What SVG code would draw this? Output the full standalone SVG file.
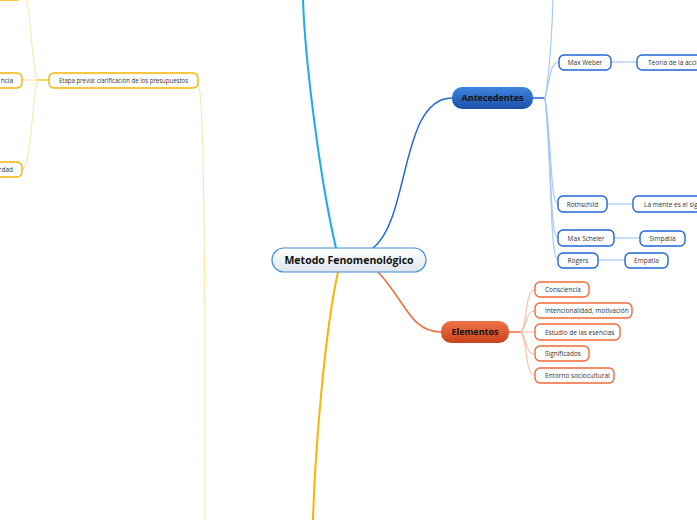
<svg xmlns="http://www.w3.org/2000/svg" width="697" height="520" viewBox="0 0 697 520">
<defs>
<linearGradient id="gc" x1="0" y1="0" x2="0" y2="1"><stop offset="0" stop-color="#ffffff"/><stop offset="1" stop-color="#dfe6ec"/></linearGradient>
<linearGradient id="gb" x1="0" y1="0" x2="0" y2="1"><stop offset="0" stop-color="#3f86e0"/><stop offset="1" stop-color="#1b4fa6"/></linearGradient>
<linearGradient id="go" x1="0" y1="0" x2="0" y2="1"><stop offset="0" stop-color="#f07448"/><stop offset="1" stop-color="#c8421c"/></linearGradient>
</defs>
<style>
text{font-family:"Open Sans","DejaVu Sans",sans-serif;font-size:6.5px;fill:#333}
.b{fill:#fff;stroke:#1f66d6;stroke-width:1.4}
.o{fill:#fff;stroke:#f26b3a;stroke-width:1.4}
.y{fill:#fff;stroke:#f7b500;stroke-width:1.4}
.t{font-weight:bold;font-size:9px;fill:#111}
.lb{fill:none;stroke:#a9c8f2;stroke-width:1.2}
.lo{fill:none;stroke:#f9b59a;stroke-width:1}
.ly{fill:none;stroke:#fde3a6;stroke-width:1}
</style>
<g id="connectors">
<path d="M336,248 C320,180 305,60 303,0" fill="none" stroke="#1eaaf0" stroke-width="2"/>
<path d="M338,272 C325,330 315,450 313,520" fill="none" stroke="#f7b500" stroke-width="2"/>
<path d="M378,272 C405,300 410,332 441,332" fill="none" stroke="#f26b3a" stroke-width="1.5"/>
<path d="M373,248 C410,220 400,98 452,98" fill="none" stroke="#1f66d6" stroke-width="1.5"/>
<path d="M533,98 L545,98" stroke="#1f66d6" stroke-width="1.5"/>
<path class="lb" d="M545,98 C550,70 552,30 553,0"/>
<path class="lb" d="M545,98 C550,80 550,62 559,62"/>
<path class="lb" d="M545,98 C552,140 550,204 558,204"/>
<path class="lb" d="M545,98 C552,160 550,238 558,238"/>
<path class="lb" d="M545,98 C552,170 550,260 558,260"/>
<path class="lb" d="M611,62 L637,62"/>
<path class="lb" d="M607,204 L633,204"/>
<path class="lb" d="M614,238 L640,238"/>
<path class="lb" d="M598,260 L625,260"/>
<path d="M509,332 L521,332" stroke="#f26b3a" stroke-width="1.5"/>
<path class="lo" d="M521,332 C528,320 525,290 535,290"/>
<path class="lo" d="M521,332 C528,325 525,311 535,311"/>
<path class="lo" d="M521,332 L535,332"/>
<path class="lo" d="M521,332 C528,340 525,354 535,354"/>
<path class="lo" d="M521,332 C528,345 525,375 535,375"/>
<path class="ly" d="M198,80 C205,100 205,300 205,520"/>
<path d="M37,80 L49,80" stroke="#f7b500" stroke-width="1.2"/>
<path class="ly" d="M37,80 C32,60 30,10 26,0"/>
<path class="ly" d="M37,80 L22,80"/>
<path class="ly" d="M37,80 C32,110 30,169 22,169"/>
</g>
<g id="central"><rect x="272" y="248" width="154" height="24" rx="12" fill="url(#gc)" stroke="#3a8ed8" stroke-width="1.2"/><text x="349" y="264" text-anchor="middle" style="font-size:10.5px;font-weight:bold;fill:#111">Metodo Fenomenológico</text></g>
<g id="antecedentes"><rect x="452" y="87" width="81" height="22" rx="10" fill="url(#gb)"/><text class="t" x="492.5" y="101" text-anchor="middle">Antecedentes</text></g>
<g id="weber"><rect class="b" x="559" y="55" width="52" height="15" rx="5"/><text x="585" y="65" text-anchor="middle">Max Weber</text></g>
<g id="accion"><rect class="b" x="637" y="55" width="70" height="15" rx="5"/><text x="648" y="65">Teoría de la acción</text></g>
<g id="rothschild"><rect class="b" x="558" y="196" width="49" height="16" rx="5"/><text x="582.5" y="206.5" text-anchor="middle">Rothschild</text></g>
<g id="mente"><rect class="b" x="633" y="196" width="74" height="16" rx="5"/><text x="644" y="206.5">La mente es el signo</text></g>
<g id="scheler"><rect class="b" x="558" y="230" width="56" height="16" rx="5"/><text x="586" y="240.5" text-anchor="middle">Max Scheler</text></g>
<g id="simpatia"><rect class="b" x="640" y="231" width="45" height="15" rx="5"/><text x="662.5" y="241" text-anchor="middle">Simpatía</text></g>
<g id="rogers"><rect class="b" x="558" y="253" width="40" height="15" rx="5"/><text x="578" y="263" text-anchor="middle">Rogers</text></g>
<g id="empatia"><rect class="b" x="625" y="253" width="43" height="15" rx="5"/><text x="646.5" y="263" text-anchor="middle">Empatía</text></g>
<g id="elementos"><rect x="441" y="321" width="68" height="22" rx="10" fill="url(#go)"/><text class="t" x="475" y="335" text-anchor="middle">Elementos</text></g>
<g id="consciencia"><rect class="o" x="535" y="282" width="54" height="15" rx="5"/><text x="545" y="292">Consciencia</text></g>
<g id="intencionalidad"><rect class="o" x="535" y="303" width="97" height="15" rx="5"/><text x="545" y="313">Intencionalidad, motivación</text></g>
<g id="estudio"><rect class="o" x="535" y="324" width="85" height="16" rx="5"/><text x="545" y="334.5">Estudio de las esencias</text></g>
<g id="significados"><rect class="o" x="535" y="346" width="54" height="15" rx="5"/><text x="545" y="356">Significados</text></g>
<g id="entorno"><rect class="o" x="535" y="368" width="79" height="15" rx="5"/><text x="545" y="378">Entorno sociocultural</text></g>
<g id="etapa"><rect class="y" x="49" y="73" width="149" height="15" rx="5"/><text x="59" y="83" textLength="129" lengthAdjust="spacingAndGlyphs">Etapa previa: clarificación de los presupuestos</text></g>
<g id="top-left"><rect class="y" x="-40" y="-15" width="62" height="15" rx="5"/></g>
<g id="ncia"><rect class="y" x="-40" y="73" width="62" height="15" rx="5"/><text x="13" y="83" text-anchor="end">ncia</text></g>
<g id="rdad"><rect class="y" x="-40" y="162" width="62" height="15" rx="5"/><text x="13" y="172" text-anchor="end">rdad</text></g>
</svg>
